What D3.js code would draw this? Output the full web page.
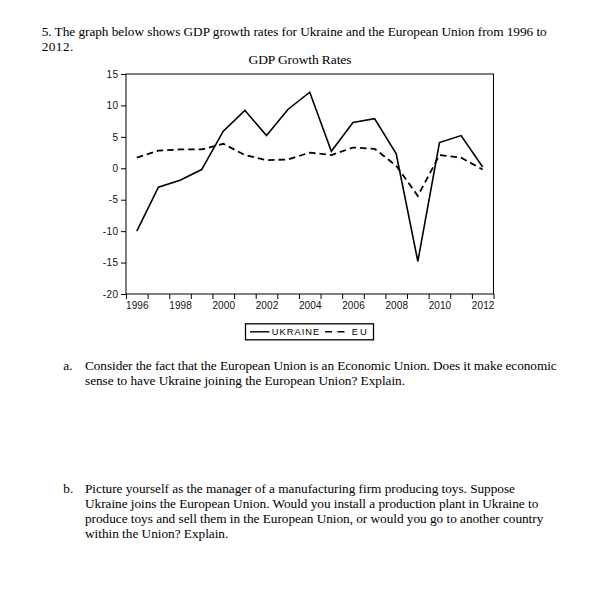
<!DOCTYPE html>
<html><head><meta charset="utf-8">
<script src="https://cdn.jsdelivr.net/npm/d3@7"></script>
<style>
html,body{margin:0;padding:0;background:#fff;}
svg{display:block;}
.serif{font-family:"Liberation Serif","Times New Roman",serif;fill:#000;}
.sans{font-family:"Liberation Sans",Arial,sans-serif;}
</style></head>
<body>
<script>
// ---- data ----
const years = [1996,1997,1998,1999,2000,2001,2002,2003,2004,2005,2006,2007,2008,2009,2010,2011,2012];
const ukraine = [-10.0,-3.0,-1.9,-0.2,5.9,9.2,5.2,9.4,12.1,2.7,7.3,7.9,2.3,-14.8,4.1,5.2,0.2];
const eu = [1.7,2.8,3.0,3.0,3.9,2.1,1.3,1.4,2.5,2.1,3.3,3.1,0.4,-4.4,2.1,1.7,-0.2];
const yTicks = [15,10,5,0,-5,-10,-15,-20];
const xLabelYears = [1996,1998,2000,2002,2004,2006,2008,2010,2012];
const seriesNames = ["UKRAINE","E U"];
const chartTitle = "GDP Growth Rates";
const introLines = ["5. The graph below shows GDP growth rates for Ukraine and the European Union from 1996 to","2012."];
const qaLines = ["Consider the fact that the European Union is an Economic Union. Does it make economic","sense to have Ukraine joining the European Union? Explain."];
const qbLines = ["Picture yourself as the manager of a manufacturing firm producing toys. Suppose","Ukraine joins the European Union. Would you install a production plant in Ukraine to","produce toys and sell them in the European Union, or would you go to another country","within the Union? Explain."];

const W = 610, H = 598;
const svg = d3.select("body").append("svg").attr("width",W).attr("height",H);
svg.append("rect").attr("width",W).attr("height",H).attr("fill","#fff");

// ---- page text ----
const introW = [505, 31.6];
introLines.forEach((t,i)=>{
  svg.append("text").attr("class","serif").attr("x",41.7).attr("y",35.5+i*15.5)
    .attr("font-size",13.3).attr("textLength",introW[i]).text(t);
});
svg.append("text").attr("class","serif").attr("x",63.3).attr("y",370).attr("font-size",13.3).text("a.");
const qaW = [471.7, 320];
qaLines.forEach((t,i)=>{
  svg.append("text").attr("class","serif").attr("x",85).attr("y",370+i*15.2)
    .attr("font-size",13.3).attr("textLength",qaW[i]).text(t);
});
svg.append("text").attr("class","serif").attr("x",63.3).attr("y",492.5).attr("font-size",13.3).text("b.");
const qbW = [430, 453.3, 458.3, 143.3];
qbLines.forEach((t,i)=>{
  svg.append("text").attr("class","serif").attr("x",85).attr("y",492.5+i*15)
    .attr("font-size",13.3).attr("textLength",qbW[i]).text(t);
});

// ---- chart ----
const L = 126, R = 493.5, T = 74, B = 294;
const x = d3.scaleLinear().domain([years[0]-0.5, years[years.length-1]+0.5]).range([L,R]);
const y = d3.scaleLinear().domain([-20,15]).range([B,T]);

svg.append("text").attr("class","serif").attr("x",300).attr("y",64)
  .attr("text-anchor","middle").attr("font-size",13.5).attr("textLength",103).text(chartTitle);

// frame
svg.append("rect").attr("x",L).attr("y",T).attr("width",R-L).attr("height",B-T)
  .attr("fill","none").attr("stroke","#000").attr("stroke-width",1);

// y axis
const yAxis = d3.axisLeft(y).tickValues(yTicks).tickSize(5).tickPadding(2.5).tickFormat(d=>String(d));
const gy = svg.append("g").attr("transform",`translate(${L},0)`).call(yAxis);
gy.select(".domain").remove();
gy.selectAll("text").attr("class","sans").attr("font-size",10).attr("letter-spacing",0.4).attr("fill","#111");

// x axis tick marks at year boundaries
const boundaries = years.map(d=>d-0.5).concat([years[years.length-1]+0.5]);
const xTickAxis = d3.axisBottom(x).tickValues(boundaries).tickSize(5).tickFormat("");
const gx = svg.append("g").attr("transform",`translate(0,${B})`).call(xTickAxis);
gx.select(".domain").remove();
// labels centered on years
const xLabAxis = d3.axisBottom(x).tickValues(xLabelYears).tickSize(0).tickPadding(8).tickFormat(d=>String(d));
const gxl = svg.append("g").attr("transform",`translate(0,${B})`).call(xLabAxis);
gxl.select(".domain").remove();
gxl.selectAll("text").attr("class","sans").attr("font-size",10).attr("letter-spacing",0.1).attr("fill","#111");

// lines
const line = d3.line().x((d,i)=>x(years[i])).y(d=>y(d));
svg.append("path").datum(eu).attr("d",line).attr("fill","none")
  .attr("stroke","#000").attr("stroke-width",1.8).attr("stroke-dasharray","6.5,4");
svg.append("path").datum(ukraine).attr("d",line).attr("fill","none")
  .attr("stroke","#000").attr("stroke-width",1.6).attr("stroke-linejoin","miter");

// legend
const lg = svg.append("g");
lg.append("rect").attr("x",245.5).attr("y",323.8).attr("width",128).attr("height",16)
  .attr("fill","#fff").attr("stroke","#000").attr("stroke-width",1.3);
lg.append("line").attr("x1",250).attr("x2",269.5).attr("y1",331.8).attr("y2",331.8)
  .attr("stroke","#000").attr("stroke-width",1.4);
lg.append("text").attr("class","sans").attr("x",271.7).attr("y",335.3).attr("font-size",9.3)
  .attr("textLength",47.5).attr("fill","#000").text(seriesNames[0]);
lg.append("line").attr("x1",325).attr("x2",345).attr("y1",331.8).attr("y2",331.8)
  .attr("stroke","#000").attr("stroke-width",1.6).attr("stroke-dasharray","7,5.5");
lg.append("text").attr("class","sans").attr("x",351.7).attr("y",335.3).attr("font-size",9.3)
  .attr("textLength",15).attr("fill","#000").text(seriesNames[1]);
</script>
</body></html>
